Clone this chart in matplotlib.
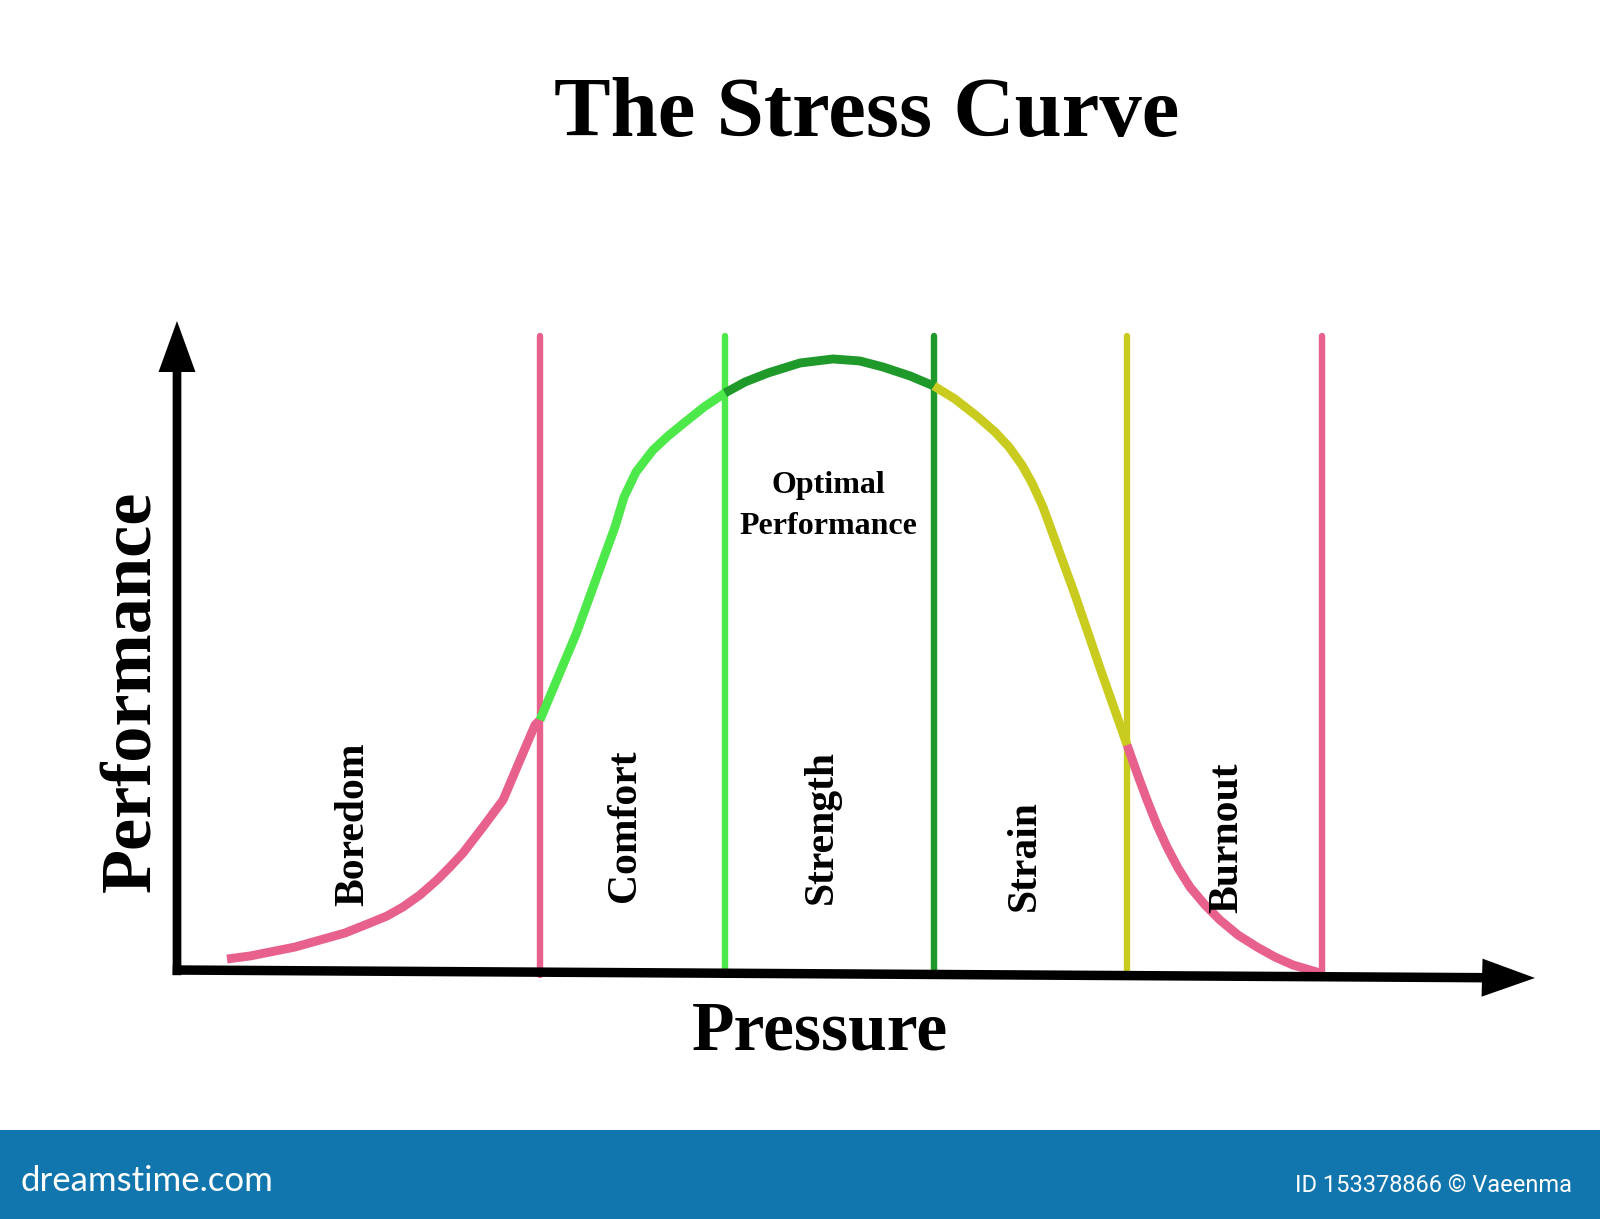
import matplotlib
matplotlib.use("Agg")
import matplotlib.pyplot as plt
from matplotlib.patches import Rectangle

plt.rcParams['font.family'] = ['Liberation Serif', 'DejaVu Serif']

# zone boundaries (pressure units, 0..100 along the x axis)
boundaries = [26.73, 40.35, 55.74, 69.96, 84.32]
boundary_colors = ['#E8608C', '#4DE84A', '#1F9A2A', '#C9CC1F', '#E8608C']
line_top = 97.7
line_bottom = -0.8

# curve pieces
boredom_x = [3.68, 5.38, 6.85, 8.69, 10.53, 12.37, 14.21, 15.46, 16.64, 17.89,
             19.15, 20.10, 21.06, 22.53, 24.01, 25.26, 26.36, 26.73]
boredom_y = [1.69, 2.16, 2.77, 3.54, 4.62, 5.70, 7.24, 8.32, 9.71, 11.56,
             13.87, 15.87, 18.03, 22.03, 26.19, 32.36, 37.75, 38.52]
comfort_x = [26.73, 29.42, 32.25, 32.92, 33.80, 35.05, 36.16, 37.33, 38.81, 40.35]
comfort_y = [38.52, 51.93, 68.26, 72.88, 76.73, 80.12, 82.28, 84.28, 86.75, 88.91]
strength_x = [40.35, 41.83, 43.52, 45.88, 48.31, 50.29, 51.99, 53.98, 55.74]
strength_y = [88.91, 90.60, 91.99, 93.53, 94.15, 93.84, 92.91, 91.53, 89.98]
strain_x = [55.74, 57.29, 58.98, 60.24, 61.27, 62.22, 62.96, 63.77, 66.13, 67.97, 69.96]
strain_y = [89.98, 87.98, 85.21, 82.90, 80.59, 77.81, 75.04, 71.34, 57.78, 46.53, 34.67]
burnout_x = [69.96, 70.69, 71.43, 72.16, 72.90, 73.71, 74.59, 75.70, 76.80, 78.13,
             79.53, 80.85, 82.18, 84.17]
burnout_y = [34.67, 30.35, 26.19, 22.34, 18.95, 15.72, 12.79, 10.02, 7.70, 5.39,
             3.54, 2.00, 0.77, -0.46]
curve_colors = ['#E8608C', '#4DE84A', '#1F9A2A', '#C9CC1F', '#E8608C']

zone_labels = ['Boredom', 'Comfort', 'Strength', 'Strain', 'Burnout']

fig = plt.figure(figsize=(16, 12.19), dpi=100)
fig.patch.set_facecolor('white')

# axes placed so that the origin sits where the drawn axes cross
W, H = 1600, 1219
ax = fig.add_axes([177 / W, (H - 970) / H, (1535 - 177) / W, (970 - 321) / H])
ax.set_xlim(0, 100)
ax.set_ylim(0, 100)
ax.set_axis_off()

# vertical zone lines
for xb, c in zip(boundaries, boundary_colors):
    ax.plot([xb, xb], [line_bottom, line_top], color=c, lw=4.6,
            solid_capstyle='round', clip_on=False, zorder=2)

# the curve
pieces = [(boredom_x, boredom_y), (comfort_x, comfort_y), (strength_x, strength_y),
          (strain_x, strain_y), (burnout_x, burnout_y)]
for (xs, ys), c in zip(pieces, curve_colors):
    ax.plot(xs, ys, color=c, lw=6.4, solid_capstyle='butt', solid_joinstyle='round',
            clip_on=False, zorder=3)

# axis arrows
ax.arrow(0, -0.8, 0, 100.8, width=0.64, head_width=2.72, head_length=7.86,
         length_includes_head=True, color='black', lw=0, clip_on=False, zorder=4)
ax.arrow(-0.32, 0, 100.32, -1.23, width=1.46, head_width=5.86, head_length=3.9,
         length_includes_head=True, color='black', lw=0, clip_on=False, zorder=4)

# zone labels (x is the baseline, text reads bottom to top)
label_pos = [(13.70, 22.42), (33.73, 22.19), (48.23, 22.03), (63.18, 17.57), (78.06, 20.34)]
for txt, (lx, ly) in zip(zone_labels, label_pos):
    ax.text(lx, ly, txt, rotation=90, rotation_mode='anchor', ha='center',
            va='baseline', fontsize=30, fontweight='bold', zorder=5)

ax.text(47.94, 74.73, 'Optimal', ha='center', va='center', fontsize=23, fontweight='bold')
ax.text(47.94, 68.26, 'Performance', ha='center', va='center', fontsize=23, fontweight='bold')

# titles
fig.text(867 / W, 1 - 136 / H, 'The Stress Curve', ha='center', va='baseline',
         fontsize=61, fontweight='bold')
fig.text(150 / W, 1 - 691 / H, 'Performance', rotation=90, rotation_mode='anchor',
         ha='center', va='baseline', fontsize=52, fontweight='bold')
fig.text(820 / W, 1 - 1050 / H, 'Pressure', ha='center', va='baseline',
         fontsize=50, fontweight='bold')

# bottom banner
fig.patches.append(Rectangle((0, 0), 1, (H - 1130) / H, transform=fig.transFigure,
                             facecolor='#1276AE', edgecolor='none', zorder=0))
fig.text(20 / W, 1 - 1191 / H, 'dreamstime.com', ha='left', va='baseline',
         fontsize=25, color='white', family=['Lato', 'DejaVu Sans'])
fig.text(1572 / W, 1 - 1192 / H, 'ID 153378866 \u00a9 Vaeenma', ha='right', va='baseline',
         fontsize=17, color='white', family=['Roboto', 'DejaVu Sans'])

fig.savefig('out.png', dpi=100)
